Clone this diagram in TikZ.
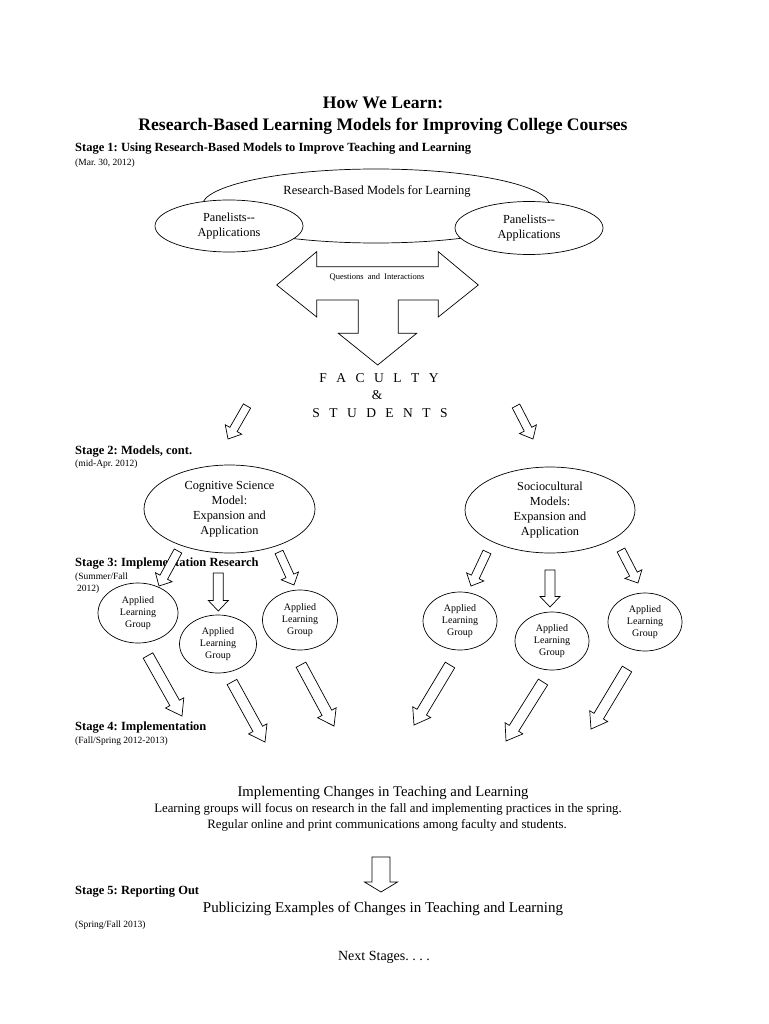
\documentclass[tikz,border=0pt]{standalone}
\usepackage{fontspec}
\setmainfont{Liberation Serif}
\usetikzlibrary{shapes.geometric,calc}
\frenchspacing
\newcommand{\blkarrow}[5]{%
  \path ($(#2)!#5!(#1)$) coordinate (#1h);
  \draw[blk] ($(#1)!#3!90:(#2)$) -- ($(#1h)!#3!90:(#2)$) -- ($(#1h)!#4!90:(#2)$) -- (#2)
    -- ($(#1h)!#4!-90:(#2)$) -- ($(#1h)!#3!-90:(#2)$) -- ($(#1)!#3!-90:(#2)$) -- cycle;}
\begin{document}
\frenchspacing
\begin{tikzpicture}[x=1pt,y=-1pt,
  lbl/.style={font=\fontsize{12.5}{14}\selectfont\bfseries, anchor=west, inner sep=0pt},
  date/.style={font=\fontsize{9.5}{11.5}\selectfont, anchor=west, inner sep=0pt, align=left},
  ell/.style={draw, ellipse, fill=white, line width=0.7pt, inner sep=0pt, align=center},
  bigtxt/.style={font=\fontsize{12.3}{15}\selectfont},
  alg/.style={ell, font=\fontsize{10}{11.7}\selectfont, minimum width=76pt, minimum height=59pt},
  blk/.style={draw, fill=white, line width=0.7pt, line join=miter},
  plain/.style={inner sep=0pt, align=center}]
\useasboundingbox[fill=white] (0,0) rectangle (768,1024);

% title
\node[plain, font=\fontsize{17.6}{22}\selectfont\bfseries] (title) at (383,116)
  {How We Learn:\\Research-Based Learning Models for Improving College Courses};

% stage 1
\node[lbl] (s1) at (75,149) {Stage 1: Using Research-Based Models to Improve Teaching and Learning};
\node[date] (d1) at (75,163) {(Mar. 30, 2012)};

\node[ell, minimum width=348pt, minimum height=74pt] (rbm) at (376,206) {};
\node[plain, font=\fontsize{12.5}{15}\selectfont] (rbmt) at (377,191) {Research-Based Models for Learning};
\node[ell, bigtxt, minimum width=148pt, minimum height=52pt] (pl) at (229,226) {Panelists-{}-\\Applications};
\node[ell, bigtxt, minimum width=148pt, minimum height=53pt] (pr) at (529,228) {Panelists-{}-\\Applications};

% three-headed arrow
\draw[blk] (276.7,285) -- (316.7,251.7) -- (316.7,266.7) -- (438.3,266.7) -- (438.3,251.7)
  -- (478.3,285) -- (438.3,317) -- (438.3,300) -- (398.3,300) -- (398.3,333.3)
  -- (416.7,333.3) -- (377.7,365) -- (338.3,333.3) -- (358.3,333.3) -- (358.3,300)
  -- (316.7,300) -- (316.7,317) -- cycle;
\node[plain, font=\fontsize{8.5}{10}\selectfont] (qi) at (377,277) {Questions\hspace{2pt} and\hspace{2pt} Interactions};

% faculty & students
\node[plain, font=\fontsize{13.5}{16}\selectfont] (fac) at (379,378) {\spaceskip=9.5pt F A C U L T Y};
\node[plain, font=\fontsize{13.5}{16}\selectfont] (amp) at (377,395) {\&};
\node[plain, font=\fontsize{13.5}{16}\selectfont] (stu) at (380,413) {\spaceskip=9.5pt S T U D E N T S};

\coordinate (f1s) at (247,406); \coordinate (f1e) at (228,439);
\coordinate (f2s) at (516,406); \coordinate (f2e) at (533,439);
\blkarrow{f1s}{f1e}{4.2pt}{9.5pt}{11pt}
\blkarrow{f2s}{f2e}{4.2pt}{9.5pt}{11pt}

% stage 2
\node[lbl] (s2) at (75,452) {Stage 2: Models, cont.};
\node[date] (d2) at (75,464) {(mid-Apr. 2012)};
\node[ell, bigtxt, minimum width=171pt, minimum height=88pt] (cog) at (229.5,509)
  {Cognitive Science\\Model:\\Expansion and\\Application};
\node[ell, bigtxt, minimum width=170pt, minimum height=86pt] (soc) at (550,510)
  {Sociocultural\\Models:\\Expansion and\\Application};

% stage 3
\node[lbl] (s3) at (75,564) {Stage 3: Implementation Research};
\node[date, anchor=north west] (d3) at (75,573) {(Summer/Fall\\\hspace{2pt}2012)};

\node[alg, minimum width=80pt, minimum height=60pt] (l1) at (138,613) {Applied\\Learning\\Group};
\node[alg, minimum width=77pt, minimum height=58pt] (l2) at (218,644) {Applied\\Learning\\Group};
\node[alg, minimum width=75pt, minimum height=60pt] (l3) at (300,620) {Applied\\Learning\\Group};
\node[alg, minimum width=74pt, minimum height=58pt] (r1) at (460,621) {Applied\\Learning\\Group};
\node[alg, minimum width=74pt, minimum height=58pt] (r2) at (552,641) {Applied\\Learning\\Group};
\node[alg, minimum width=74pt, minimum height=58pt] (r3) at (645,622) {Applied\\Learning\\Group};

\coordinate (c1s) at (178,551); \coordinate (c1e) at (159,586);
\coordinate (c2s) at (218.3,573); \coordinate (c2e) at (218.3,611);
\coordinate (c3s) at (279,552); \coordinate (c3e) at (294,585);
\coordinate (k1s) at (487,552); \coordinate (k1e) at (471,586);
\coordinate (k2s) at (550,570); \coordinate (k2e) at (550,607);
\coordinate (k3s) at (621,550); \coordinate (k3e) at (638,583);
\blkarrow{c1s}{c1e}{4.3pt}{9.5pt}{10pt}
\blkarrow{c2s}{c2e}{5pt}{10pt}{10.5pt}
\blkarrow{c3s}{c3e}{4.3pt}{9.5pt}{10pt}
\blkarrow{k1s}{k1e}{4.3pt}{9.5pt}{10pt}
\blkarrow{k2s}{k2e}{5pt}{10pt}{10.5pt}
\blkarrow{k3s}{k3e}{4.3pt}{9.5pt}{10pt}

% stage 4
\node[lbl] (s4) at (75,728) {Stage 4: Implementation};
\node[date] (d4) at (75,741) {(Fall/Spring 2012-2013)};

\coordinate (g1s) at (148,655.5); \coordinate (g1e) at (182,716);
\coordinate (g2s) at (232,682); \coordinate (g2e) at (265,742);
\coordinate (g3s) at (301,664.7); \coordinate (g3e) at (334,726);
\coordinate (g4s) at (450,665); \coordinate (g4e) at (414,725);
\coordinate (g5s) at (543,682); \coordinate (g5e) at (506,741);
\coordinate (g6s) at (627,669); \coordinate (g6e) at (591,729);
\blkarrow{g1s}{g1e}{5.5pt}{10.5pt}{15pt}
\blkarrow{g2s}{g2e}{5.5pt}{10.5pt}{15pt}
\blkarrow{g3s}{g3e}{5.5pt}{10.5pt}{15pt}
\blkarrow{g4s}{g4e}{5.5pt}{10.5pt}{15pt}
\blkarrow{g5s}{g5e}{5.5pt}{10.5pt}{15pt}
\blkarrow{g6s}{g6e}{5.5pt}{10.5pt}{15pt}

\node[plain, font=\fontsize{14.7}{17}\selectfont] (impl) at (383,793) {Implementing Changes in Teaching and Learning};
\node[plain, font=\fontsize{12.8}{14}\selectfont] (lg) at (388,809) {Learning groups will focus on research in the fall and implementing practices in the spring.};
\node[plain, font=\fontsize{12.8}{14}\selectfont] (reg) at (387,825) {Regular online and print communications among faculty and students.};

\coordinate (ds) at (381,857); \coordinate (de) at (381,892);
\blkarrow{ds}{de}{9pt}{16.5pt}{10pt}

% stage 5
\node[lbl] (s5) at (75,892) {Stage 5: Reporting Out};
\node[plain, font=\fontsize{15}{17}\selectfont] (pub) at (383,909) {Publicizing Examples of Changes in Teaching and Learning};
\node[date] (d5) at (75,925) {(Spring/Fall 2013)};
\node[plain, font=\fontsize{14}{17}\selectfont] (next) at (384,957) {Next Stages. . . .};
\end{tikzpicture}
\end{document}
